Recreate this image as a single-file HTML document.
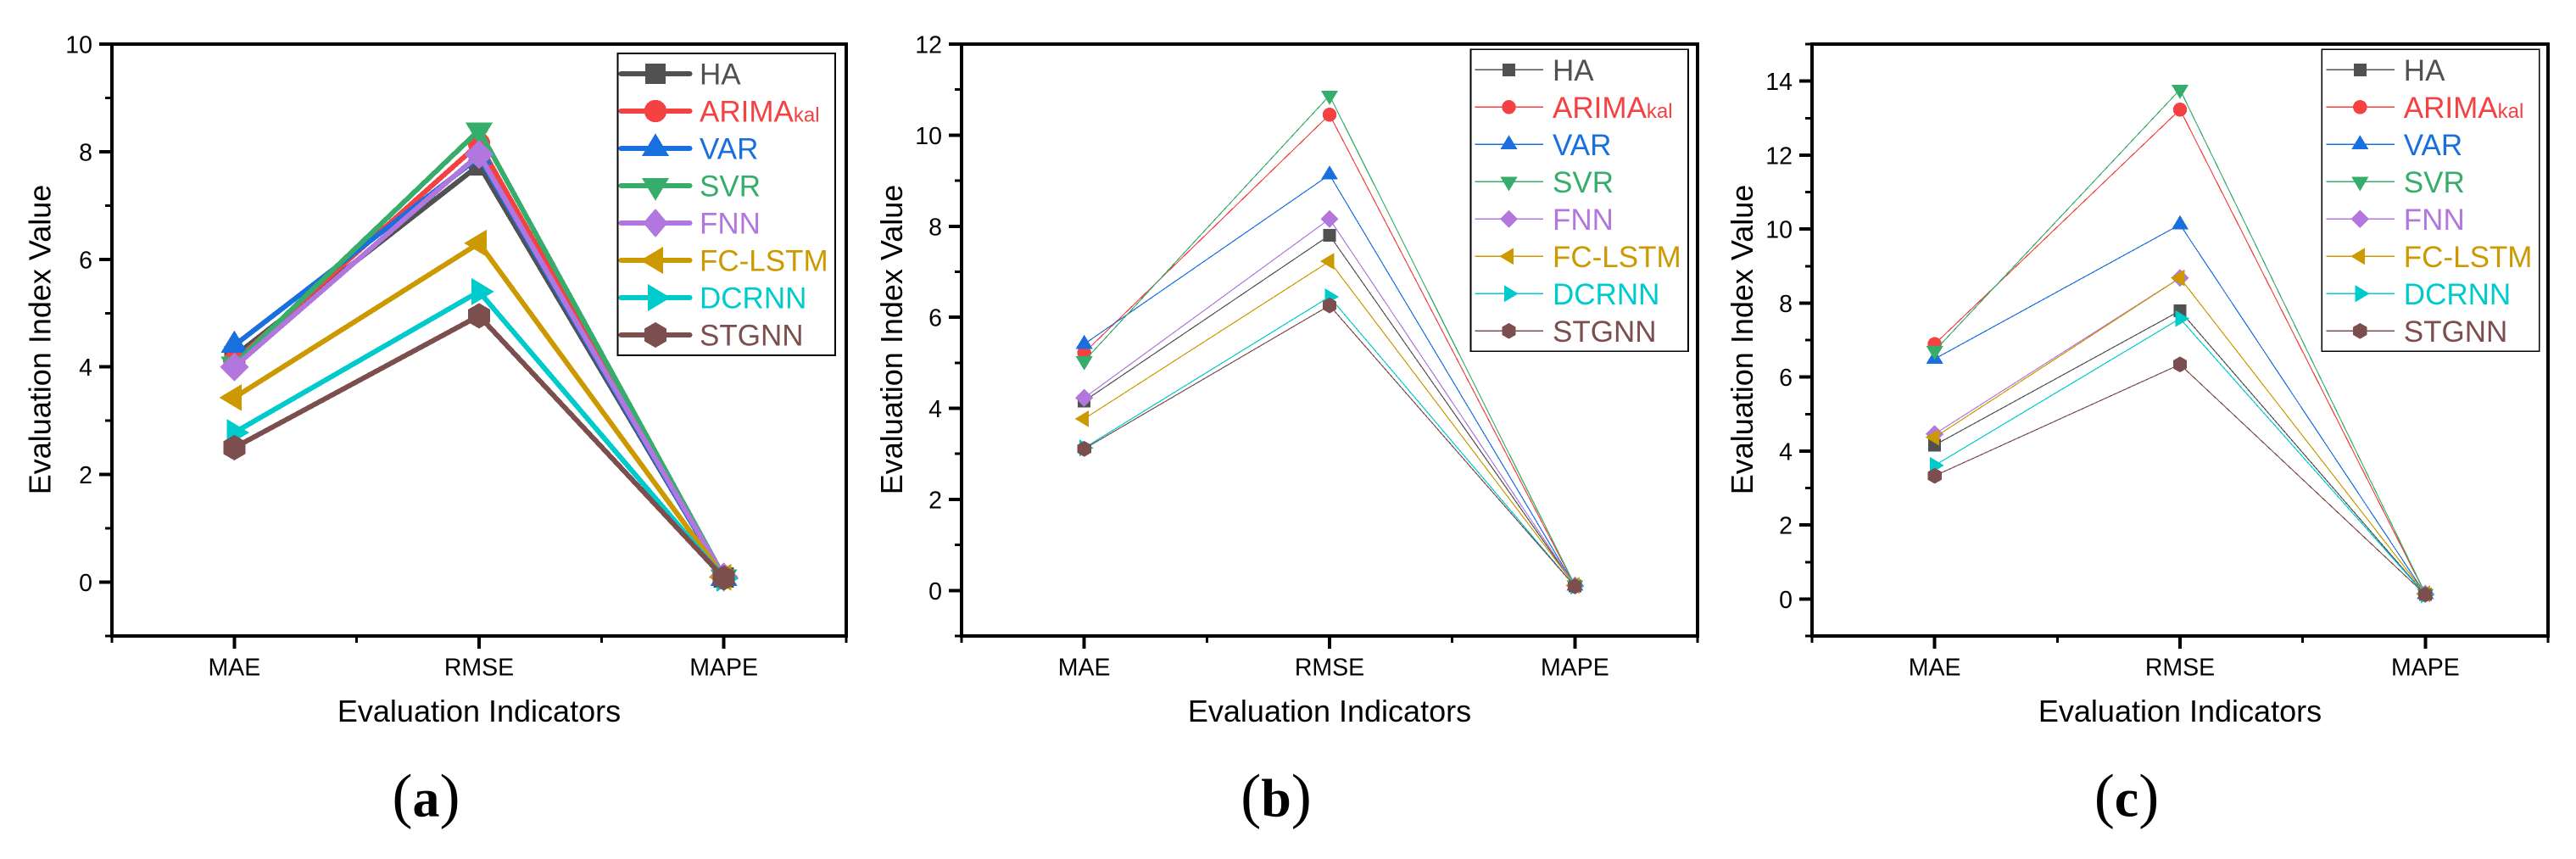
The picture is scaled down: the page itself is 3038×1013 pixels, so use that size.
<!DOCTYPE html>
<html lang="en">
<head>
<meta charset="utf-8">
<title>Evaluation index comparison</title>
<style>
html,body{margin:0;padding:0;background:#fff;}
body{width:3038px;height:1013px;overflow:hidden;}
svg{display:block;shape-rendering:crispEdges;}
text{font-family:"Liberation Sans",Arial,sans-serif;}
.cap{font-family:"Liberation Serif",serif;font-size:72px;fill:#000;text-anchor:middle;}
.cap .b{font-weight:bold;font-size:64px;}
.axt{font-size:36px;fill:#000;text-anchor:middle;}
</style>
</head>
<body>
<svg id="root" xmlns="http://www.w3.org/2000/svg" width="3038" height="1013" viewBox="0 0 3038 1013">
  <rect width="3038" height="1013" fill="#ffffff"/>
  <g id="panel-a">
    <text class="axt" x="565" y="851">Evaluation Indicators</text>
    <text class="axt" transform="translate(59.5,400.5) rotate(-90)">Evaluation Index Value</text>
    <text class="cap" x="502.5" y="962.5">(<tspan class="b">a</tspan>)</text>
  </g>
  <g id="panel-b">
    <text class="axt" x="1568" y="851">Evaluation Indicators</text>
    <text class="axt" transform="translate(1064,400.5) rotate(-90)">Evaluation Index Value</text>
    <text class="cap" x="1505" y="962.5">(<tspan class="b">b</tspan>)</text>
  </g>
  <g id="panel-c">
    <text class="axt" x="2571" y="851">Evaluation Indicators</text>
    <text class="axt" transform="translate(2067,400.5) rotate(-90)">Evaluation Index Value</text>
    <text class="cap" x="2508" y="962.5">(<tspan class="b">c</tspan>)</text>
  </g>
</svg>
<script>
// ---- data ----
const categories = ['MAE', 'RMSE', 'MAPE'];
const seriesNames = ['HA', 'ARIMA', 'VAR', 'SVR', 'FNN', 'FC-LSTM', 'DCRNN', 'STGNN'];
const seriesSubscripts = ['', 'kal', '', '', '', '', '', ''];

const yTicksA = [0, 2, 4, 6, 8, 10];
const yTicksB = [0, 2, 4, 6, 8, 10, 12];
const yTicksC = [0, 2, 4, 6, 8, 10, 12, 14];

const haA = [4.2, 7.75, 0.09];
const arimaA = [4.1, 8.15, 0.08];
const varA = [4.4, 7.9, 0.07];
const svrA = [4.05, 8.4, 0.1];
const fnnA = [4.0, 7.95, 0.1];
const fclstmA = [3.43, 6.3, 0.09];
const dcrnnA = [2.78, 5.4, 0.07];
const stgnnA = [2.5, 4.95, 0.08];

const haB = [4.16, 7.8, 0.1];
const arimaB = [5.22, 10.45, 0.11];
const varB = [5.41, 9.13, 0.1];
const svrB = [5.04, 10.87, 0.12];
const fnnB = [4.23, 8.16, 0.11];
const fclstmB = [3.77, 7.23, 0.11];
const dcrnnB = [3.13, 6.45, 0.09];
const stgnnB = [3.11, 6.26, 0.09];

const haC = [4.16, 7.79, 0.12];
const arimaC = [6.89, 13.23, 0.14];
const varC = [6.49, 10.12, 0.13];
const svrC = [6.71, 13.77, 0.15];
const fnnC = [4.46, 8.68, 0.14];
const fclstmC = [4.37, 8.68, 0.14];
const dcrnnC = [3.61, 7.58, 0.11];
const stgnnC = [3.33, 6.34, 0.12];

const seriesA = [haA, arimaA, varA, svrA, fnnA, fclstmA, dcrnnA, stgnnA];
const seriesB = [haB, arimaB, varB, svrB, fnnB, fclstmB, dcrnnB, stgnnB];
const seriesC = [haC, arimaC, varC, svrC, fnnC, fclstmC, dcrnnC, stgnnC];

// ---- style ----
const seriesColors = ['#515151', '#F44141', '#1A6FDF', '#37AD6B', '#B177DE', '#CC9900', '#00CBCC', '#7D4E4E'];
const NS = 'http://www.w3.org/2000/svg';

function make(tag, attrs, parent) {
  const el = document.createElementNS(NS, tag);
  for (const k in attrs) el.setAttribute(k, attrs[k]);
  parent.appendChild(el);
  return el;
}

function drawMarker(parent, kind, cx, cy, s, dw, color, name) {
  let el;
  const p = pts => pts.map(q => (cx + q[0] * s) + ',' + (cy + q[1] * s)).join(' ');
  if (kind === 0) {
    el = make('rect', {x: cx - 12 * s, y: cy - 12 * s, width: 24 * s, height: 24 * s, fill: color}, parent);
  } else if (kind === 1) {
    el = make('circle', {cx: cx, cy: cy, r: 13.2 * s, fill: color}, parent);
  } else if (kind === 2) {
    el = make('polygon', {points: p([[0, -17.7], [16, 8.9], [-16, 8.9]]), fill: color}, parent);
  } else if (kind === 3) {
    el = make('polygon', {points: p([[0, 17.7], [16, -8.9], [-16, -8.9]]), fill: color}, parent);
  } else if (kind === 4) {
    el = make('polygon', {points: p([[0, -17], [dw, 0], [0, 17], [-dw, 0]]), fill: color}, parent);
  } else if (kind === 5) {
    el = make('polygon', {points: p([[-17.7, 0], [8.9, -16], [8.9, 16]]), fill: color}, parent);
  } else if (kind === 6) {
    el = make('polygon', {points: p([[17.7, 0], [-8.9, -16], [-8.9, 16]]), fill: color}, parent);
  } else {
    el = make('polygon', {points: p([[0, -15], [13, -7.5], [13, 7.5], [0, 15], [-13, 7.5], [-13, -7.5]]), fill: color}, parent);
  }
  
  
  return el;
}

function drawPanel(cfg) {
  const host = document.getElementById(cfg.id);
  const L = cfg.left, R = cfg.right, T = 52, B = 750;
  const xScale = v => L + (v - 0.5) / 3 * (R - L);
  const yScale = v => B - (v - cfg.yMin) / (cfg.yMax - cfg.yMin) * (B - T);

  // series
  cfg.series.forEach((vals, si) => {
    const g = make('g', {}, host);
    
    
    const line = make('polyline', {
      points: vals.map((v, i) => xScale(i + 1) + ',' + yScale(v)).join(' '),
      fill: 'none', stroke: seriesColors[si], 'stroke-width': cfg.lw, 'stroke-linejoin': 'round'
    }, g);
    
    
    vals.forEach((v, i) => {
      drawMarker(g, si, xScale(i + 1), yScale(v), cfg.ms, 17, seriesColors[si], 'point-' + seriesNames[si].toLowerCase() + '-' + categories[i].toLowerCase());
    });
  });

  // frame
  const frame = make('rect', {x: L, y: T, width: R - L, height: B - T, fill: 'none', stroke: '#000', 'stroke-width': 4}, host);
  
  

  // y ticks
  for (let v = cfg.yMin; v <= cfg.yMax; v++) {
    const major = cfg.yTicks.indexOf(v) >= 0;
    const t = make('line', {x1: L - (major ? 15 : 8), x2: L, y1: yScale(v), y2: yScale(v), stroke: '#000', 'stroke-width': major ? 4 : 3}, host);
    
    
  }
  cfg.yTicks.forEach(v => {
    const t = make('text', {x: L - 23, y: yScale(v) + 10.5, 'font-size': 28.5, fill: '#000', 'text-anchor': 'end'}, host);
    
    
    t.textContent = v;
  });

  // x ticks
  for (let v = 0.5; v <= 3.5; v += 0.5) {
    const major = Number.isInteger(v);
    const t = make('line', {x1: xScale(v), x2: xScale(v), y1: B, y2: B + (major ? 15 : 8), stroke: '#000', 'stroke-width': major ? 4 : 3}, host);
    
    
  }
  categories.forEach((c, i) => {
    const t = make('text', {x: xScale(i + 1), y: 796.5, 'font-size': 28.5, fill: '#000', 'text-anchor': 'middle'}, host);
    
    
    t.textContent = c;
  });

  // legend
  const lg = make('g', {}, host);
  
  
  const box = make('rect', {x: cfg.lgX, y: cfg.lgY, width: 256.5, height: 356, fill: '#fff', stroke: '#000', 'stroke-width': 1.6}, lg);
  
  
  seriesNames.forEach((n, i) => {
    const y = cfg.lgY + 24 + i * 44;
    const e = make('g', {}, lg);
    
    
    const l = make('line', {x1: cfg.lgX + cfg.lineX0, x2: cfg.lgX + cfg.lineX1, y1: y, y2: y, stroke: seriesColors[i], 'stroke-width': cfg.lw, 'stroke-linecap': cfg.lw > 2 ? 'round' : 'butt'}, e);
    
    
    drawMarker(e, i, cfg.lgX + cfg.markX, y, cfg.ms, cfg.lgDw, seriesColors[i], 'legend-marker');
    const t = make('text', {x: cfg.lgX + cfg.textX, y: y + 12.7, 'font-size': 35, fill: seriesColors[i]}, e);
    
    
    t.textContent = n;
    if (seriesSubscripts[i]) {
      const sub = make('tspan', {'font-size': 24}, t);
      sub.textContent = seriesSubscripts[i];
    }
  });
}

drawPanel({id: 'panel-a', left: 132, right: 998, yMin: -1, yMax: 10, yTicks: yTicksA, series: seriesA, lw: 6, ms: 1, lgX: 728.5, lgY: 63, lineX0: 4, lineX1: 85, markX: 44.5, textX: 96.5, lgDw: 14.5});
drawPanel({id: 'panel-b', left: 1134, right: 2002, yMin: -1, yMax: 12, yTicks: yTicksB, series: seriesB, lw: 1.2, ms: 0.625, lgX: 1734.5, lgY: 58.3, lineX0: 5, lineX1: 85.5, markX: 45, textX: 96.5, lgDw: 17});
drawPanel({id: 'panel-c', left: 2137, right: 3005, yMin: -1, yMax: 15, yTicks: yTicksC, series: seriesC, lw: 1.2, ms: 0.625, lgX: 2738.3, lgY: 58.3, lineX0: 5, lineX1: 85.5, markX: 45, textX: 96.5, lgDw: 17});
</script>
</body>
</html>
